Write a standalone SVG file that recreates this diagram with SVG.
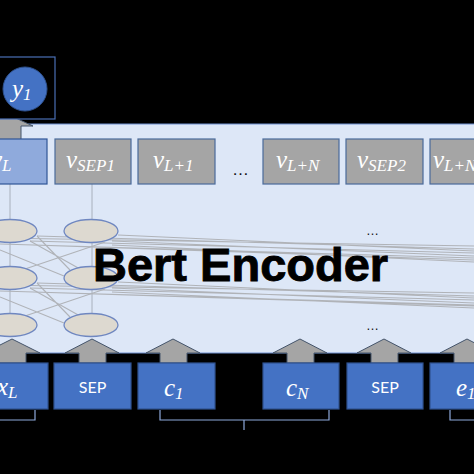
<svg xmlns="http://www.w3.org/2000/svg" width="474" height="474" viewBox="0 0 474 474">
<defs>
<style>
.vbox{fill:#a5a5a5;stroke:#4a6a9a;stroke-width:1.2}
.vboxL{fill:#8faadc;stroke:#2f5597;stroke-width:1.2}
.ibox{fill:#4472c4;stroke:#2f528f;stroke-width:1.2}
.arr{fill:#a5a5a5;stroke:#44546a;stroke-width:1}
.ell{fill:#ddd9d0;stroke:#6f87c0;stroke-width:1.3}
.mt{font-family:"Liberation Serif","DejaVu Serif",serif;font-style:italic;fill:#ffffff}
.big{font-size:25px}
.sub{font-size:17px}
.sep{font-family:Lato,"Liberation Sans",sans-serif;font-size:16px;fill:#ffffff}
.dots{font-family:"Liberation Sans",sans-serif;fill:#111111}
.title{font-family:"Liberation Sans",Arial,sans-serif;font-weight:700;font-size:47px;fill:#000000;stroke:#000000;stroke-width:0.9}
.ln{stroke:#b0b3b8;stroke-width:1.1;fill:none}
.vl{stroke:#a8b0bc;stroke-width:1;fill:none}
.br{stroke:#8ea9db;stroke-width:1.2;fill:none}
</style>
</defs>
<rect x="0" y="0" width="474" height="474" fill="#000000"/>

<g id="encoder">
<rect x="-2" y="124" width="478" height="229" fill="#dde7f7" stroke="#6f8fcf" stroke-width="1"/>
</g>

<g id="connectors">
<path class="vl" d="M10,184 V313 M92,184 V220 M92,243 V267 M92,290 V313"/>
<path class="ln" d="M37,236 L474,249 M30,241 L474,253 M118,235 L474,251 M112,241 L474,256 M33,245 L474,260 M112,245 L474,262 M0,244 L474,258 M0,238 L474,246"/>
<path class="ln" d="M30,241 L80,269 M105,242 L25,269 M37,236 L70,270 M0,250 L64,276"/>
<path class="ln" d="M37,283 L474,296 M30,288 L474,300 M118,282 L474,298 M112,288 L474,303 M33,292 L474,306 M112,292 L474,308 M0,291 L474,305 M0,285 L474,293"/>
<path class="ln" d="M30,288 L80,316 M105,289 L25,316 M37,283 L70,317 M0,297 L64,323"/>
<path class="arr" d="M-7,139 V126 H-19 L7,114 L33,126 H21 V139"/>
<path class="arr" d="M-2,363 V353 H-16 L12,339 L40,353 H26 V363 Z"/>
<path class="arr" d="M79,363 V353 H65 L92,339 L119,353 H106 V363 Z"/>
<path class="arr" d="M160,363 V353 H146 L173,339 L200,353 H187 V363 Z"/>
<path class="arr" d="M287,363 V353 H273 L300,339 L327,353 H314 V363 Z"/>
<path class="arr" d="M371,363 V353 H357 L384,339 L411,353 H398 V363 Z"/>
<path class="arr" d="M454,363 V353 H440 L467,339 L494,353 H481 V363 Z"/>
<path class="br" d="M-2,420 H35 V410"/>
<path class="br" d="M160,410 V420 H329 V410 M244,420 V430"/>
<path class="br" d="M450,410 V420 H476"/>
</g>

<g id="neurons">
<ellipse class="ell" cx="10" cy="231" rx="27" ry="11.5"/>
<ellipse class="ell" cx="91" cy="231" rx="27" ry="11.5"/>
<ellipse class="ell" cx="10" cy="278" rx="27" ry="11.5"/>
<ellipse class="ell" cx="91" cy="278" rx="27" ry="11.5"/>
<ellipse class="ell" cx="10" cy="325" rx="27" ry="11.5"/>
<ellipse class="ell" cx="91" cy="325" rx="27" ry="11.5"/>
</g>

<text class="title" x="93" y="281">Bert Encoder</text>

<g id="y1">
<rect x="-2" y="57" width="57" height="62" fill="#000000" stroke="#4a6fb5" stroke-width="1.2"/>
<circle cx="25" cy="89" r="22" fill="#4472c4" stroke="#2f528f" stroke-width="1"/>
<text class="mt" x="12" y="97"><tspan class="big">y</tspan><tspan class="sub" dy="3">1</tspan></text>
</g>

<g id="vL"><rect class="vboxL" x="-10" y="139" width="57" height="45"/>
<text class="mt" x="-9" y="168"><tspan class="big">v</tspan><tspan class="sub" dy="3">L</tspan></text></g>
<g id="vSEP1"><rect class="vbox" x="55" y="139" width="76" height="45"/>
<text class="mt" x="66" y="168"><tspan class="big">v</tspan><tspan class="sub" dy="3">SEP1</tspan></text></g>
<g id="vL1"><rect class="vbox" x="138" y="139" width="77" height="45"/>
<text class="mt" x="153" y="168"><tspan class="big">v</tspan><tspan class="sub" dy="3">L+1</tspan></text></g>
<text class="dots" x="232" y="175" font-size="17">…</text>
<g id="vLN"><rect class="vbox" x="263" y="139" width="76" height="45"/>
<text class="mt" x="276" y="168"><tspan class="big">v</tspan><tspan class="sub" dy="3">L+N</tspan></text></g>
<g id="vSEP2"><rect class="vbox" x="346" y="139" width="77" height="45"/>
<text class="mt" x="357" y="168"><tspan class="big">v</tspan><tspan class="sub" dy="3">SEP2</tspan></text></g>
<g id="vLN1"><rect class="vbox" x="430" y="139" width="77" height="45"/>
<text class="mt" x="433" y="168"><tspan class="big">v</tspan><tspan class="sub" dy="3">L+N+1</tspan></text></g>
<text class="dots" x="366" y="235" font-size="13">…</text>
<text class="dots" x="366" y="330" font-size="13">…</text>

<g id="xL"><rect class="ibox" x="-10" y="363" width="58" height="46"/>
<text class="mt" x="-3" y="395"><tspan class="big">x</tspan><tspan class="sub" dy="3">L</tspan></text></g>
<g id="sep1"><rect class="ibox" x="54" y="363" width="77" height="46"/>
<text class="sep" x="92.5" y="393" text-anchor="middle">SEP</text></g>
<g id="c1"><rect class="ibox" x="138" y="363" width="77" height="46"/>
<text class="mt" x="164" y="396"><tspan class="big">c</tspan><tspan class="sub" dy="3">1</tspan></text></g>
<g id="cN"><rect class="ibox" x="263" y="363" width="76" height="46"/>
<text class="mt" x="286" y="396"><tspan class="big">c</tspan><tspan class="sub" dy="3">N</tspan></text></g>
<g id="sep2"><rect class="ibox" x="347" y="363" width="76" height="46"/>
<text class="sep" x="385" y="393" text-anchor="middle">SEP</text></g>
<g id="e1"><rect class="ibox" x="430" y="363" width="77" height="46"/>
<text class="mt" x="456" y="396"><tspan class="big">e</tspan><tspan class="sub" dy="3">1</tspan></text></g>
</svg>
